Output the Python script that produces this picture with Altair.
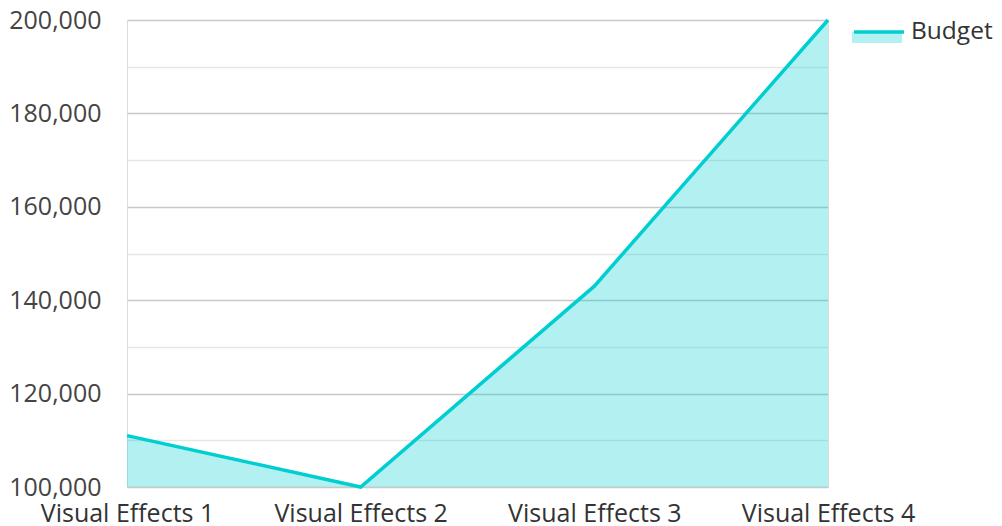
import altair as alt
import pandas as pd

categories = ["Visual Effects 1", "Visual Effects 2", "Visual Effects 3", "Visual Effects 4"]
budget = [111000, 100000, 143000, 200000]
series_name = "Budget"
y_ticks = [100000, 110000, 120000, 130000, 140000, 150000, 160000, 170000, 180000, 190000, 200000]

df = pd.DataFrame({"category": categories, "value": budget, "series": [series_name] * len(categories)})

FONT = "Open Sans"
FS = 25
TEAL = "#00CED1"

x_enc = alt.X("category:N", sort=categories, title=None,
              scale=alt.Scale(type="point", padding=0),
              axis=alt.Axis(labelAngle=0, labelFontSize=FS, labelColor="#333333", labelFont=FONT,
                            labelBaseline="alphabetic",
                            domain=False, ticks=False, labelPadding=34, grid=False))
y_enc = alt.Y("value:Q", title=None, scale=alt.Scale(domain=[100000, 200000], nice=False, zero=False),
              axis=alt.Axis(values=y_ticks, domain=False, ticks=False, labelFontSize=FS,
                            labelColor="#444444", labelFont=FONT, labelPadding=26,
                            labelExpr="datum.value % 20000 === 0 ? format(datum.value, ',') : ''",
                            gridColor={"condition": {"test": "datum.value % 20000 === 0", "value": "#c8c8c8"},
                                       "value": "#e6e6e6"},
                            gridWidth=1.3))

area = alt.Chart(df).mark_area(fillOpacity=0.3, interpolate="linear", strokeWidth=0, clip=True).encode(
    x=x_enc, y=y_enc,
    fill=alt.Fill("series:N", scale=alt.Scale(domain=[series_name], range=[TEAL]),
                  legend=alt.Legend(title=None, orient="none", legendX=725, legendY=-15,
                                    symbolType="M-1,0.08H1V0.52H-1Z", symbolSize=2500,
                                    symbolOpacity=0.3, symbolStrokeWidth=0,
                                    labelOpacity=0, labelFontSize=24.5, labelFont=FONT,
                                    labelOffset=5, padding=0)),
)

line = alt.Chart(df).mark_line(strokeWidth=3.5, interpolate="linear").encode(
    x=x_enc, y=y_enc,
    stroke=alt.Stroke("series:N", scale=alt.Scale(domain=[series_name], range=[TEAL]),
                      legend=alt.Legend(title=None, orient="none", legendX=725, legendY=-15,
                                        symbolType="stroke", symbolSize=2500, symbolStrokeWidth=3.5,
                                        labelFontSize=24.5, labelFont=FONT, labelColor="#333333",
                                        labelOffset=5, padding=0)),
)

chart = alt.layer(area, line).resolve_scale(fill="independent", stroke="independent").properties(
    width=701, height=467,
    autosize=alt.AutoSizeParams(type="none"),
    padding={"left": 119, "top": 12, "right": 166, "bottom": 40},
).configure_view(stroke="transparent", strokeWidth=0, strokeOpacity=0).configure_axis(
    domain=False, ticks=False
).configure_axisX(grid=False).configure(font=FONT)

chart.save("out.html", embed_options={"renderer": "svg", "actions": False})
